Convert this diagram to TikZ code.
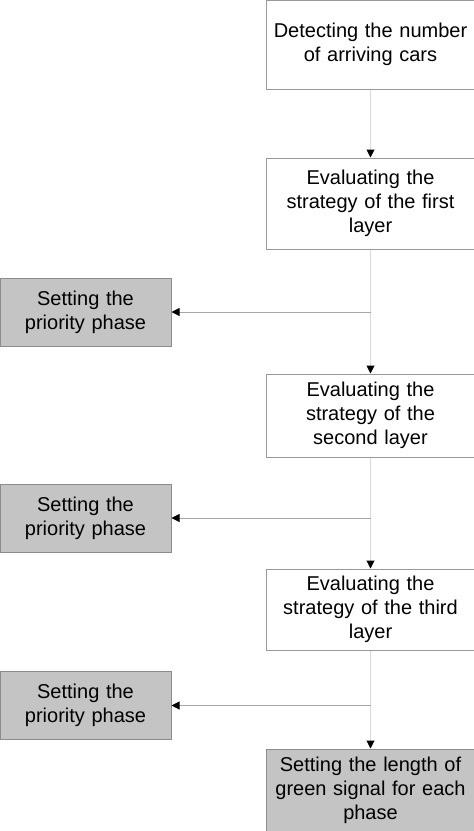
\documentclass[tikz,border=0pt]{standalone}
\usepackage{fontspec}
\setmainfont{Liberation Sans}
\usetikzlibrary{arrows.meta}

\begin{document}
\begin{tikzpicture}[x=1pt,y=1pt,
    stepbox/.style={draw=black!40,line width=1pt,fill=white,align=center,
      inner sep=0pt,text width=200pt,minimum width=208pt,
      font=\fontsize{20}{24}\selectfont},
    priobox/.style={draw=black!45,line width=1pt,fill=black!23,align=center,
      inner sep=0pt,text width=165pt,minimum width=171pt,minimum height=68pt,
      font=\fontsize{20}{24}\selectfont},
    flow/.style={draw=black!15,line width=1pt,
      -{Triangle[length=8pt,width=8pt,color=black]}},
    branch/.style={draw=black!35,line width=1pt,
      -{Triangle[length=8pt,width=8pt,color=black]}}]
  \useasboundingbox (0,0) rectangle (474,-831);
  % main column
  \node[stepbox,minimum height=89pt] (detect) at (370.5,-44.5) {Detecting the number\\of arriving cars};
  \node[stepbox,minimum height=91pt] (first) at (370.5,-203.5) {Evaluating the\\strategy of the first\\layer};
  \node[stepbox,minimum height=83pt] (second) at (370.5,-415.5) {Evaluating the\\strategy of the\\second layer};
  \node[stepbox,minimum height=81pt] (third) at (370.5,-609.5) {Evaluating the\\strategy of the third\\layer};
  \node[stepbox,fill=black!23,draw=black!45,minimum height=82pt] (green) at (370.5,-790) {Setting the length of\\green signal for each\\phase};
  % priority boxes
  \node[priobox] (prioA) at (85.5,-312) {Setting the\\priority phase};
  \node[priobox] (prioB) at (85.5,-518) {Setting the\\priority phase};
  \node[priobox] (prioC) at (85.5,-705.5) {Setting the\\priority phase};
  \coordinate (forkA) at (first.south |- prioA.east);
  \coordinate (forkB) at (second.south |- prioB.east);
  \coordinate (forkC) at (third.south |- prioC.east);
  % connectors
  \draw[flow] (detect) -- (first);
  \draw[flow] (first) -- (second);
  \draw[flow] (second) -- (third);
  \draw[flow] (third) -- (green);
  \draw[branch] (forkA) -- (prioA);
  \draw[branch] (forkB) -- (prioB);
  \draw[branch] (forkC) -- (prioC);
\end{tikzpicture}
\end{document}
